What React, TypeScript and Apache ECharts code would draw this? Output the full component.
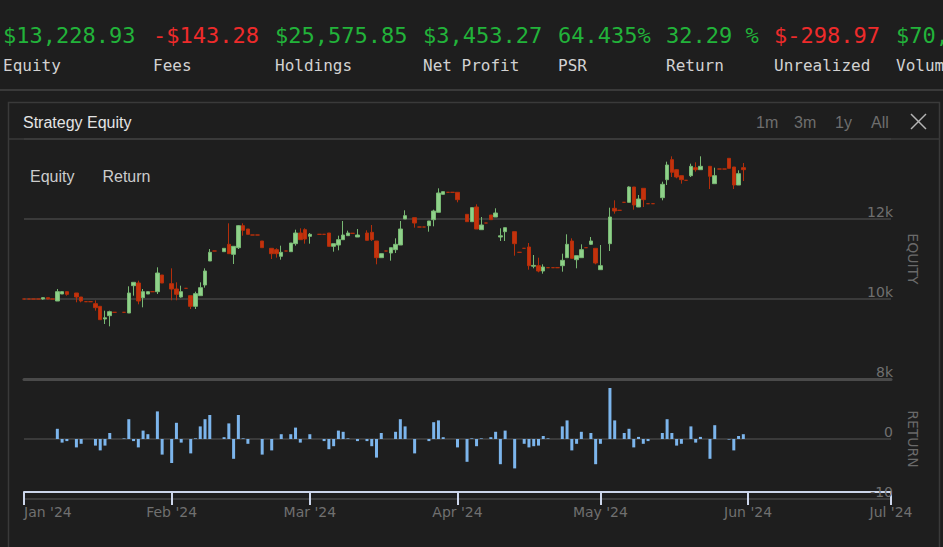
import React, { useEffect, useRef } from 'react';
import * as echarts from 'echarts';

// ---------- data ----------
const statValues = ['$13,228.93', '-$143.28', '$25,575.85', '$3,453.27', '64.435%', '32.29 %', '$-298.97', '$70,'];
const statLabels = ['Equity', 'Fees', 'Holdings', 'Net Profit', 'PSR', 'Return', 'Unrealized', 'Volume'];
const statPositive = [true, false, true, true, true, true, false, true];

const monthNames = ['Jan', 'Feb', 'Mar', 'Apr', 'May', 'Jun', 'Jul', 'Aug', 'Sep', 'Oct', 'Nov', 'Dec'];
const monthTickDates = ['2024-01-01', '2024-02-01', '2024-03-01', '2024-04-01', '2024-05-01', '2024-06-01', '2024-07-01'];
const firstDay = '2024-01-01';
const axisStart = '2024-01-01';
const axisEnd = '2024-07-01';
const equityTicks = [8000, 10000, 12000, 14000];
const returnTicks = [-10, 0, 10];

// one entry per calendar day from 2024-01-01: [open, close, low, high]
type OHLC = [number, number, number, number] | null;
const equityOHLC: OHLC[] = [
  [10000, 10000, 10000, 10000], [10000, 10000, 10000, 10000], [10000, 10000, 10000, 10000], [10000, 10000, 10000, 10000],
  [10000, 10033, 9983, 10040], [10033, 10000, 9990, 10033], [10000, 10000, 10000, 10000],
  [9950, 10183, 9950, 10250], [10125, 10183, 10125, 10190], [10183, 10117, 10083, 10190], null,
  [10150, 10050, 9917, 10150], [10050, 9950, 9917, 10050], [9933, 9933, 9933, 9933], [9933, 9933, 9933, 9933],
  [9883, 9783, 9708, 9967], [9817, 9483, 9483, 9817], [9500, 9530, 9375, 9708], [9583, 9683, 9317, 9708],
  [9667, 9667, 9667, 9667], null, [9667, 9667, 9667, 9667],
  [9650, 10150, 9650, 10317], [10333, 10417, 10083, 10417], [10400, 9950, 9867, 10458], [10033, 10183, 9792, 10250],
  [10125, 10183, 10125, 10190], [10183, 10183, 10183, 10183],
  [10183, 10650, 10125, 10792], [10600, 10400, 10400, 10600], null, [10383, 10250, 9967, 10767],
  [10250, 10117, 9967, 10417], [10050, 10183, 10033, 10333], [10267, 10267, 10267, 10267],
  [10083, 9817, 9750, 10083], [9817, 10133, 9750, 10183], [10083, 10283, 10083, 10417], [10350, 10700, 10283, 10767],
  [10950, 11167, 10950, 11250], [11200, 11200, 11200, 11200], null,
  [11183, 11267, 11183, 11267], [11367, 11133, 11125, 11892], [11117, 11317, 10875, 11317], [11283, 11833, 11250, 11850],
  [11833, 11717, 11583, 11892], [11750, 11617, 11617, 11750], [11600, 11600, 11600, 11600], [11600, 11600, 11600, 11600],
  [11450, 11283, 11283, 11450], null, [11267, 11133, 11000, 11267], [11233, 11133, 11033, 11267],
  [11067, 11167, 10983, 11333], [11200, 11200, 11200, 11200],
  [11183, 11400, 11183, 11400], [11383, 11650, 11333, 11733], [11650, 11483, 11483, 11767], [11733, 11500, 11383, 11767],
  [11567, 11617, 11383, 11650], null, [11617, 11617, 11617, 11617], [11617, 11617, 11617, 11617],
  [11650, 11317, 11317, 11650], [11317, 11383, 11183, 11383], [11350, 11483, 11217, 11583], [11483, 11600, 11483, 11950],
  [11583, 11650, 11583, 11708], [11642, 11642, 11642, 11642],
  [11550, 11600, 11550, 11750], null, [11650, 11467, 11467, 11717], [11667, 11483, 11450, 11850],
  [11450, 11033, 10867, 11450], [11033, 11133, 11033, 11133], [11200, 11200, 11200, 11200],
  [11150, 11283, 10958, 11283], [11233, 11367, 11150, 11517], [11350, 11750, 11350, 11950], [12000, 12083, 12000, 12217],
  null, [12033, 11900, 11783, 12033], [11800, 11800, 11800, 11800], [11800, 11800, 11800, 11800],
  [11833, 11950, 11683, 11950], [11983, 12200, 11817, 12233], [12167, 12650, 12167, 12767], [12617, 12683, 12617, 12683],
  [12667, 12667, 12667, 12667], [12667, 12667, 12667, 12667],
  [12667, 12483, 12417, 12667], null, [12117, 11933, 11933, 12117], [11933, 12283, 11933, 12283],
  [12300, 11750, 11750, 12367], [11733, 11850, 11733, 12050], [11900, 11900, 11900, 11900],
  [12100, 11983, 11983, 12100], [12050, 12150, 12050, 12267], [11550, 11580, 11450, 11767], [11683, 11783, 11450, 11783],
  null, [11683, 11383, 11083, 11683], [11167, 11167, 11167, 11167], [11267, 11267, 11267, 11267],
  [11300, 10833, 10733, 11400], [10820, 10840, 10767, 11100], [10833, 10700, 10667, 11033], [10700, 10800, 10633, 10867],
  [10783, 10783, 10783, 10783], [10783, 10783, 10783, 10783], [10783, 10783, 10783, 10783],
  [10833, 10967, 10683, 11133], [11033, 11367, 11033, 11617], [11450, 11017, 11017, 11517], [10983, 11083, 10767, 11083],
  [11033, 11233, 11033, 11367], [11283, 11283, 11283, 11283],
  [11367, 11450, 11350, 11550], [11267, 10900, 10867, 11267], [10733, 10833, 10733, 11350], null,
  [11383, 12050, 11200, 12283], [12267, 12200, 12133, 12467], [12217, 12217, 12217, 12217], [12417, 12417, 12417, 12417],
  [12417, 12800, 12417, 12817], [12800, 12350, 12233, 12800], [12300, 12500, 12300, 12600], [12767, 12483, 12300, 12767],
  [12383, 12383, 12383, 12383], [12383, 12383, 12383, 12383], null,
  [12533, 12867, 12467, 12933], [12983, 13350, 12850, 13433], [13483, 13167, 13050, 13567], [13233, 13050, 13017, 13250],
  [13083, 12983, 12883, 13083], [12967, 12967, 12967, 12967],
  [13083, 13317, 13050, 13383], [13283, 13233, 13183, 13417], [13233, 13317, 13233, 13567], null,
  [13317, 13067, 12750, 13317], [12883, 13083, 12883, 13283], [13250, 13250, 13250, 13250], [13250, 13250, 13250, 13250],
  [13517, 13267, 13267, 13517], [13300, 12850, 12750, 13300], [12850, 13133, 12850, 13217], [13283, 13233, 12950, 13400],
];

// one entry per calendar day from 2024-01-01
const returns: (number | null)[] = [
  null, null, null, null, null, null, null, 1.7, -0.6, -0.35,
  null, -1.4, -0.8, null, null, -1.1, -1.9, -1.1, 1.0, null,
  null, 0.1, 3.3, -0.35, -1.4, 1.4, 0.8, null, 4.6, -2.6,
  null, -4.0, 2.7, -0.6, null, -2.4, 0.1, 2.1, 3.3, 4.0,
  null, null, 0.3, 2.6, -3.3, 4.0, 0.1, -0.8, null, null,
  -2.6, null, -1.9, null, 0.8, null, 0.8, 1.9, -0.6, null,
  0.8, null, null, -0.35, -1.7, -1.2, 1.4, 1.2, 0.1, null,
  -0.35, null, -0.35, -1.2, -3.1, 1.0, null, null, 1.2, 3.3,
  2.1, null, -2.4, null, null, -0.35, 2.8, 3.1, 0.3, null,
  null, -1.4, null, -3.8, 0.1, -1.2, 0.1, null, 0.3, 1.2,
  -4.2, 1.4, null, -4.9, null, -0.8, -1.4, -1.2, -1.1, 0.5,
  0.1, null, null, 2.1, 3.1, -1.9, -0.8, 1.2, null, 1.0,
  -4.2, -0.8, null, 8.5, 3.1, null, 1.0, 1.7, -1.4, 0.35,
  -0.8, -0.35, null, null, 1.0, 3.3, 1.0, -1.1, -0.8, null,
  2.1, -0.6, 0.35, null, -3.3, 2.3, null, null, -0.1, -1.9,
  0.5, 0.8,
];

// ---------- helpers ----------
const parseDate = (s: string) => {
  const [y, m, d] = s.split('-').map(Number);
  return new Date(y, m - 1, d).getTime();
};
const dayTs = (i: number) => {
  const [y, m, d] = firstDay.split('-').map(Number);
  return new Date(y, m - 1, d + i).getTime();
};

const STAT_X = [3, 153, 275, 423, 558, 666, 774, 896];
const GREEN = '#22b33a';
const RED = '#ee2b2b';

export default function App() {
  const ref = useRef<HTMLDivElement>(null);

  useEffect(() => {
    if (!ref.current) return;
    const chart = echarts.init(ref.current, undefined, { renderer: 'svg' });

    const candleData = equityOHLC
      .map((v, i) => (v ? [dayTs(i), v[0], v[1], v[2], v[3]] : null))
      .filter((v) => v !== null);
    const returnData = returns
      .map((v, i) => (v === null ? null : [dayTs(i), v]))
      .filter((v) => v !== null);
    const monthTs = monthTickDates.map(parseDate);
    const xMin = parseDate(axisStart);
    const xMax = parseDate(axisEnd);

    const graphics: any[] = [];
    statValues.forEach((v, i) => {
      graphics.push({
        type: 'text', silent: true, x: STAT_X[i], y: 35,
        style: { text: v, fill: statPositive[i] ? GREEN : RED, fontSize: 22, fontFamily: '"DejaVu Sans Mono", monospace', verticalAlign: 'middle', align: 'left' },
      });
    });
    statLabels.forEach((v, i) => {
      graphics.push({
        type: 'text', silent: true, x: STAT_X[i], y: 65,
        style: { text: v, fill: '#d2d2d2', fontSize: 16, fontFamily: '"DejaVu Sans Mono", monospace', verticalAlign: 'middle', align: 'left' },
      });
    });
    const hdrFont = '"Liberation Sans", Arial, sans-serif';
    graphics.push(
      { type: 'line', silent: true, shape: { x1: 0, y1: 90, x2: 943, y2: 90 }, style: { stroke: '#3a3a3a', lineWidth: 2 } },
      { type: 'rect', silent: true, shape: { x: 8.5, y: 102.5, width: 931, height: 460 }, style: { fill: 'none', stroke: '#3a3a3a', lineWidth: 1.5 } },
      { type: 'line', silent: true, shape: { x1: 8, y1: 139, x2: 940, y2: 139 }, style: { stroke: '#3a3a3a', lineWidth: 1.5 } },
      { type: 'text', silent: true, x: 23, y: 122, style: { text: 'Strategy Equity', fill: '#e4e4e4', fontSize: 16, fontFamily: hdrFont, verticalAlign: 'middle' } },
      { type: 'text', silent: true, x: 756, y: 122, style: { text: '1m', fill: '#6e6e6e', fontSize: 16, fontFamily: hdrFont, verticalAlign: 'middle' } },
      { type: 'text', silent: true, x: 794, y: 122, style: { text: '3m', fill: '#6e6e6e', fontSize: 16, fontFamily: hdrFont, verticalAlign: 'middle' } },
      { type: 'text', silent: true, x: 835, y: 122, style: { text: '1y', fill: '#6e6e6e', fontSize: 16, fontFamily: hdrFont, verticalAlign: 'middle' } },
      { type: 'text', silent: true, x: 871, y: 122, style: { text: 'All', fill: '#6e6e6e', fontSize: 16, fontFamily: hdrFont, verticalAlign: 'middle' } },
      { type: 'line', silent: true, shape: { x1: 911, y1: 114, x2: 926, y2: 129 }, style: { stroke: '#b4b4b4', lineWidth: 1.5 } },
      { type: 'line', silent: true, shape: { x1: 926, y1: 114, x2: 911, y2: 129 }, style: { stroke: '#b4b4b4', lineWidth: 1.5 } },
    );

    const axisFont = 'DejaVu Sans';
    chart.setOption({
      animation: false,
      backgroundColor: '#1e1e1e',
      textStyle: { fontFamily: axisFont },
      legend: {
        left: 24, top: 168, padding: 0, itemWidth: 0, itemHeight: 0, itemGap: 23, icon: 'rect',
        selectedMode: false,
        data: ['Equity', 'Return'],
        textStyle: { color: '#cccccc', fontSize: 16, fontFamily: hdrFont },
      },
      grid: [
        { left: 24, right: 52, top: 139, height: 240 },
        { left: 24, right: 52, top: 379, height: 120 },
      ],
      xAxis: [
        {
          type: 'value', gridIndex: 0, min: xMin, max: xMax,
          axisLine: { show: true, onZero: false, lineStyle: { color: '#4a4a4a', width: 3 } },
          axisTick: { show: false }, axisLabel: { show: false }, splitLine: { show: false },
        },
        {
          type: 'value', gridIndex: 1, min: xMin, max: xMax, offset: -7,
          axisLine: { show: true, onZero: false, lineStyle: { color: '#ccd6eb', width: 2 } },
          axisTick: { show: true, customValues: monthTs, length: 13, lineStyle: { color: '#ccd6eb', width: 2 } },
          axisLabel: {
            customValues: monthTs, color: '#707070', fontSize: 14, fontFamily: axisFont, margin: 13,
            alignMinLabel: 'left', showMinLabel: true, showMaxLabel: true,
            formatter: (v: number) => {
              const d = new Date(v);
              return `${monthNames[d.getMonth()]} '${String(d.getFullYear()).slice(2)}`;
            },
          },
          splitLine: { show: false },
        },
      ],
      yAxis: [
        {
          type: 'value', gridIndex: 0, position: 'right',
          min: equityTicks[0], max: equityTicks[equityTicks.length - 1], interval: equityTicks[1] - equityTicks[0],
          name: 'EQUITY', nameLocation: 'middle', nameRotate: -90, nameGap: 15,
          nameTextStyle: { color: '#6a6a6a', fontSize: 14, fontFamily: axisFont },
          axisLine: { show: false }, axisTick: { show: false },
          axisLabel: {
            inside: true, margin: -2, verticalAlign: 'bottom', color: '#707070', fontSize: 14, fontFamily: axisFont,
            showMaxLabel: false, formatter: (v: number) => `${v / 1000}k`,
          },
          splitLine: { show: true, lineStyle: { color: '#3a3a3a', width: 2 } },
        },
        {
          type: 'value', gridIndex: 1, position: 'right',
          min: returnTicks[0], max: returnTicks[returnTicks.length - 1], interval: returnTicks[1] - returnTicks[0],
          name: 'RETURN', nameLocation: 'middle', nameRotate: -90, nameGap: 15,
          nameTextStyle: { color: '#6a6a6a', fontSize: 14, fontFamily: axisFont },
          axisLine: { show: false }, axisTick: { show: false },
          axisLabel: {
            inside: true, margin: -2, verticalAlign: 'bottom', color: '#707070', fontSize: 14, fontFamily: axisFont,
            showMaxLabel: false,
          },
          splitLine: { show: true, lineStyle: { color: '#3a3a3a', width: 2 } },
        },
      ],
      series: [
        {
          name: 'Equity', type: 'candlestick', xAxisIndex: 0, yAxisIndex: 0,
          barWidth: 4,
          encode: { x: 0, y: [1, 2, 3, 4] },
          data: candleData,
          itemStyle: {
            color: '#8fd18a', color0: '#c3320d',
            borderColor: '#78b873', borderColor0: '#b32e0b', borderColorDoji: '#b32e0b', borderWidth: 1,
          },
        },
        {
          name: 'Return', type: 'bar', xAxisIndex: 1, yAxisIndex: 1,
          barWidth: 3,
          data: returnData,
          itemStyle: { color: '#7cb5ec' },
        },
      ],
      graphic: graphics,
    });

    return () => chart.dispose();
  }, []);

  return <div ref={ref} style={{ position: 'fixed', left: 0, top: 0, width: 943, height: 547 }} />;
}
